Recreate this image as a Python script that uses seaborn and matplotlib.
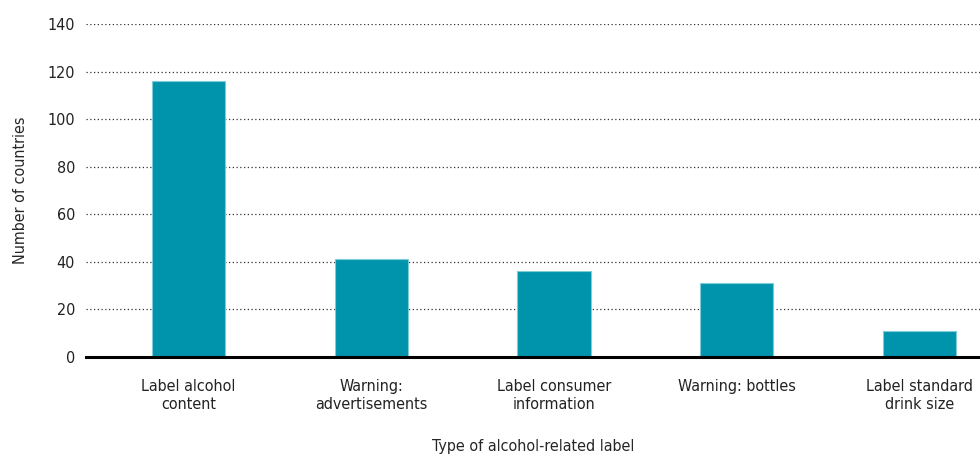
import matplotlib
matplotlib.use("Agg")
import matplotlib.pyplot as plt
import seaborn as sns
import pandas as pd

categories = ["Label alcohol\ncontent", "Warning:\nadvertisements", "Label consumer\ninformation",
              "Warning: bottles", "Label standard\ndrink size"]
countries = [116, 41, 36, 31, 11]
y_ticks = [0, 20, 40, 60, 80, 100, 120, 140]

df = pd.DataFrame({"label": categories, "countries": countries})

sns.set_style("white")
plt.rcParams["font.family"] = ["DejaVu Sans"]
plt.rcParams["font.stretch"] = "condensed"

fig = plt.figure(figsize=(9.8, 4.57), dpi=100)
ax = fig.add_axes([0.0878, 0.2188, 0.9122, 0.7287])

sns.barplot(data=df, x="label", y="countries", color="#0093AC", width=0.4,
            edgecolor="#7fcbd8", linewidth=0.8, saturation=1, ax=ax, zorder=3)

ax.set_ylim(0, 140)
ax.set_xlim(-0.56, 4.33)
ax.set_yticks(y_ticks)
ax.yaxis.grid(True, linestyle=(0, (1, 2)), color="#333333", linewidth=0.9)
ax.set_axisbelow(True)
for s in ["left", "right", "top"]:
    ax.spines[s].set_visible(False)
ax.spines["bottom"].set_linewidth(2.2)
ax.spines["bottom"].set_color("black")
ax.spines["bottom"].set_zorder(4)
ax.tick_params(axis="both", length=0, labelsize=11.5, colors="#222222")
ax.tick_params(axis="x", pad=16)
ax.tick_params(axis="y", pad=8)
for t in ax.get_xticklabels():
    t.set_linespacing(1.25)

ax.set_xlabel("Type of alcohol-related label", fontsize=11.5, labelpad=19)
ax.set_ylabel("Number of countries", fontsize=11.5, labelpad=14)

fig.savefig("out.png", dpi=100)
